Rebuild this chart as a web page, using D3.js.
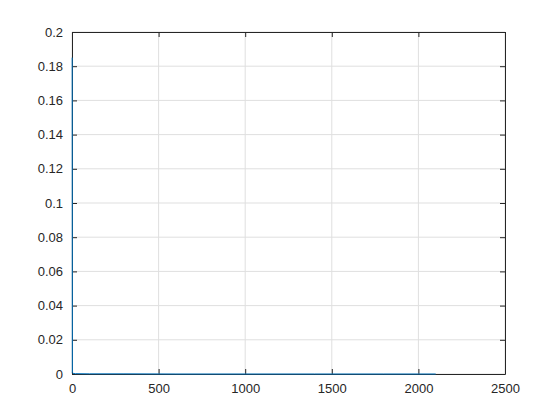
<!DOCTYPE html>
<html>
<head>
<meta charset="utf-8">
<script src="https://cdn.jsdelivr.net/npm/d3@7"></script>
<style>
  body { margin: 0; background: #fff; }
  svg { display: block; }
  .tick text { font-family: "Liberation Sans", Arial, sans-serif; font-size: 13px; fill: #262626; }
</style>
</head>
<body>
<div id="chart"></div>
<script>
// Data: a single spike at the start, then ~0
var xValues = [1, 2, 5, 20, 100, 300, 600, 1000, 1400, 1800, 2000, 2100];
var yValues = [0.185, 0.0008, 0.0004, 0.0002, 0.0001, 0.0001, 0, 0, 0, 0, 0, 0];
var xTicks = [0, 500, 1000, 1500, 2000, 2500];
var yTicks = [0, 0.02, 0.04, 0.06, 0.08, 0.1, 0.12, 0.14, 0.16, 0.18, 0.2];

var svgWidth = 560;
var svgHeight = 420;

var margin = { top: 32, right: 55, bottom: 46, left: 72 };
var width = svgWidth - margin.left - margin.right;
var height = svgHeight - margin.top - margin.bottom;

var svg = d3.select("#chart")
  .append("svg")
  .attr("width", svgWidth)
  .attr("height", svgHeight);

var chartGroup = svg.append("g")
  .attr("transform", `translate(${margin.left}, ${margin.top})`);

var xScale = d3.scaleLinear().domain([0, 2500]).range([0, width]);
var yScale = d3.scaleLinear().domain([0, 0.2]).range([height, 0]);

// grid
chartGroup.append("g").selectAll("line").data(xTicks).enter().append("line")
  .attr("x1", d => xScale(d)).attr("x2", d => xScale(d))
  .attr("y1", 0).attr("y2", height)
  .attr("stroke", "#dfdfdf").attr("stroke-width", 1);

chartGroup.append("g").selectAll("line").data(yTicks).enter().append("line")
  .attr("x1", 0).attr("x2", width)
  .attr("y1", d => yScale(d)).attr("y2", d => yScale(d))
  .attr("stroke", "#dfdfdf").attr("stroke-width", 1);

// axes, ticks pointing inward
var bottomAxis = d3.axisBottom(xScale).tickValues(xTicks).tickSizeInner(-5).tickSizeOuter(0).tickPadding(10).tickFormat(d3.format("d"));
var leftAxis = d3.axisLeft(yScale).tickValues(yTicks).tickSizeInner(-5).tickSizeOuter(0).tickPadding(9).tickFormat(d => d === 0 ? "0" : String(+d.toFixed(2)));
var topAxis = d3.axisTop(xScale).tickValues(xTicks).tickSizeInner(-5).tickSizeOuter(0).tickFormat("");
var rightAxis = d3.axisRight(yScale).tickValues(yTicks).tickSizeInner(-5).tickSizeOuter(0).tickFormat("");

[
  [bottomAxis, `translate(0, ${height})`],
  [leftAxis, null],
  [topAxis, null],
  [rightAxis, `translate(${width}, 0)`]
].forEach(function(a) {
  var g = chartGroup.append("g").call(a[0]);
  if (a[1]) g.attr("transform", a[1]);
  g.selectAll(".domain").attr("stroke", "#262626");
  g.selectAll(".tick line").attr("stroke", "#262626");
});

// data line
var line = d3.line()
  .x((d, i) => xScale(xValues[i]))
  .y(d => yScale(d));

chartGroup.append("path")
  .datum(yValues)
  .attr("fill", "none")
  .attr("stroke", "#0072BD")
  .attr("stroke-width", 1)
  .attr("d", line);
</script>
</body>
</html>
